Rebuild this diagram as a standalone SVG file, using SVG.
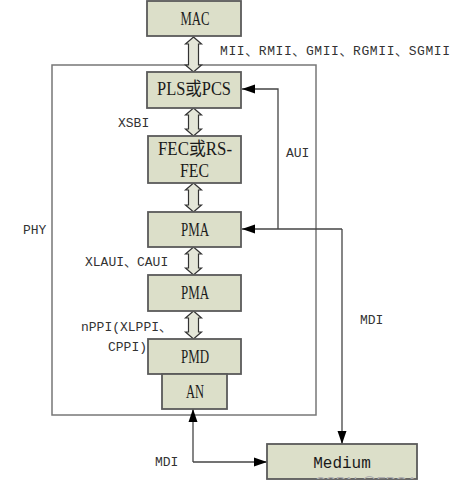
<svg xmlns="http://www.w3.org/2000/svg" width="474" height="496" viewBox="0 0 474 496">
<style>
.box{fill:#dcdfc9;stroke:#5a5a5a;stroke-width:1.8}
.bt{font-family:"Liberation Serif","Noto Sans CJK SC",serif;font-size:18px;fill:#1a1a1a;text-anchor:middle}
.lb{font-family:"Liberation Mono","Noto Sans CJK SC",monospace;font-size:13px;fill:#333}
.dbl{fill:#e4e6d8;stroke:#333;stroke-width:1.2}
.ln{fill:none;stroke:#444;stroke-width:1.3}
</style>
<defs>
<marker id="ah" markerUnits="userSpaceOnUse" markerWidth="13" markerHeight="10" refX="13" refY="5" orient="auto">
<path d="M0,0.5 L13,5 L0,9.5 z" fill="#000"/>
</marker>
<clipPath id="wm"><rect x="267" y="440" width="150" height="39"/></clipPath>
</defs>
<rect id="phy" x="52" y="65" width="264" height="350" fill="none" stroke="#777" stroke-width="1.5"/>
<text class="lb" x="23" y="234" font-size="12.5">PHY</text>
<g id="connectors">
<path class="dbl" d="M193.5,37 L201.5,44 L198.5,44 L198.5,65 L201.5,65 L193.5,72 L185.5,65 L188.5,65 L188.5,44 L185.5,44 Z"/>
<path class="dbl" d="M193.5,108 L201.5,115 L198.5,115 L198.5,129 L201.5,129 L193.5,136 L185.5,129 L188.5,129 L188.5,115 L185.5,115 Z"/>
<path class="dbl" d="M193.5,183 L201.5,190 L198.5,190 L198.5,205 L201.5,205 L193.5,212 L185.5,205 L188.5,205 L188.5,190 L185.5,190 Z"/>
<path class="dbl" d="M193.5,247 L201.5,254 L198.5,254 L198.5,268 L201.5,268 L193.5,275 L185.5,268 L188.5,268 L188.5,254 L185.5,254 Z"/>
<path class="dbl" d="M193.5,311 L201.5,318 L198.5,318 L198.5,332 L201.5,332 L193.5,339 L185.5,332 L188.5,332 L188.5,318 L185.5,318 Z"/>
<polyline class="ln" points="278,229 278,89 242,89" marker-end="url(#ah)"/>
<line class="ln" x1="342" y1="229" x2="242" y2="229" marker-end="url(#ah)"/>
<line class="ln" x1="342" y1="229" x2="342" y2="444" stroke="#777" marker-end="url(#ah)"/>
<line class="ln" x1="193" y1="462" x2="193" y2="409" marker-end="url(#ah)"/>
<line class="ln" x1="193" y1="462" x2="267" y2="462" marker-end="url(#ah)"/>
</g>
<g id="mac"><rect class="box" x="147" y="1" width="94" height="35"/><text class="bt" x="195" y="25" textLength="29" lengthAdjust="spacingAndGlyphs">MAC</text></g>
<g id="pls"><rect class="box" x="147" y="72" width="94" height="36"/><text class="bt" x="194" y="95" textLength="74" lengthAdjust="spacingAndGlyphs">PLS或PCS</text></g>
<g id="fec"><rect class="box" x="148" y="136" width="93" height="47"/><text class="bt" x="195" y="155" textLength="74" lengthAdjust="spacingAndGlyphs">FEC或RS-</text><text class="bt" x="194.5" y="177" textLength="29" lengthAdjust="spacingAndGlyphs">FEC</text></g>
<g id="pma1"><rect class="box" x="148" y="212" width="93" height="35"/><text class="bt" x="195" y="236" textLength="28" lengthAdjust="spacingAndGlyphs">PMA</text></g>
<g id="pma2"><rect class="box" x="148" y="275" width="93" height="36"/><text class="bt" x="195" y="299" textLength="28" lengthAdjust="spacingAndGlyphs">PMA</text></g>
<g id="pmd"><rect class="box" x="148" y="339" width="93" height="35"/><text class="bt" x="195" y="363" textLength="28" lengthAdjust="spacingAndGlyphs">PMD</text></g>
<g id="an"><rect class="box" x="162" y="374" width="65" height="35"/><text class="bt" x="195" y="398" textLength="18" lengthAdjust="spacingAndGlyphs">AN</text></g>
<g id="medium"><rect class="box" x="267" y="444" width="150" height="35"/><text x="342" y="468" font-family="Liberation Mono,monospace" font-size="16" fill="#1a1a1a" text-anchor="middle">Medium</text>
<text x="315" y="487" clip-path="url(#wm)" font-family="Liberation Sans,sans-serif" font-size="15" fill="#b0b0b0" textLength="102" lengthAdjust="spacingAndGlyphs">CSDN @FPGA</text></g>
<g id="labels">
<text class="lb" x="220" y="55" font-size="14" textLength="230" lengthAdjust="spacing">MII、RMII、GMII、RGMII、SGMII</text>
<text class="lb" x="118" y="127">XSBI</text>
<text class="lb" x="286" y="157">AUI</text>
<text class="lb" x="85" y="266">XLAUI、CAUI</text>
<text class="lb" x="81" y="331">nPPI(XLPPI、</text>
<text class="lb" x="108" y="351">CPPI)</text>
<text class="lb" x="360" y="324" font-size="11">MDI</text>
<text class="lb" x="155" y="466" font-size="12">MDI</text>
</g>
</svg>
